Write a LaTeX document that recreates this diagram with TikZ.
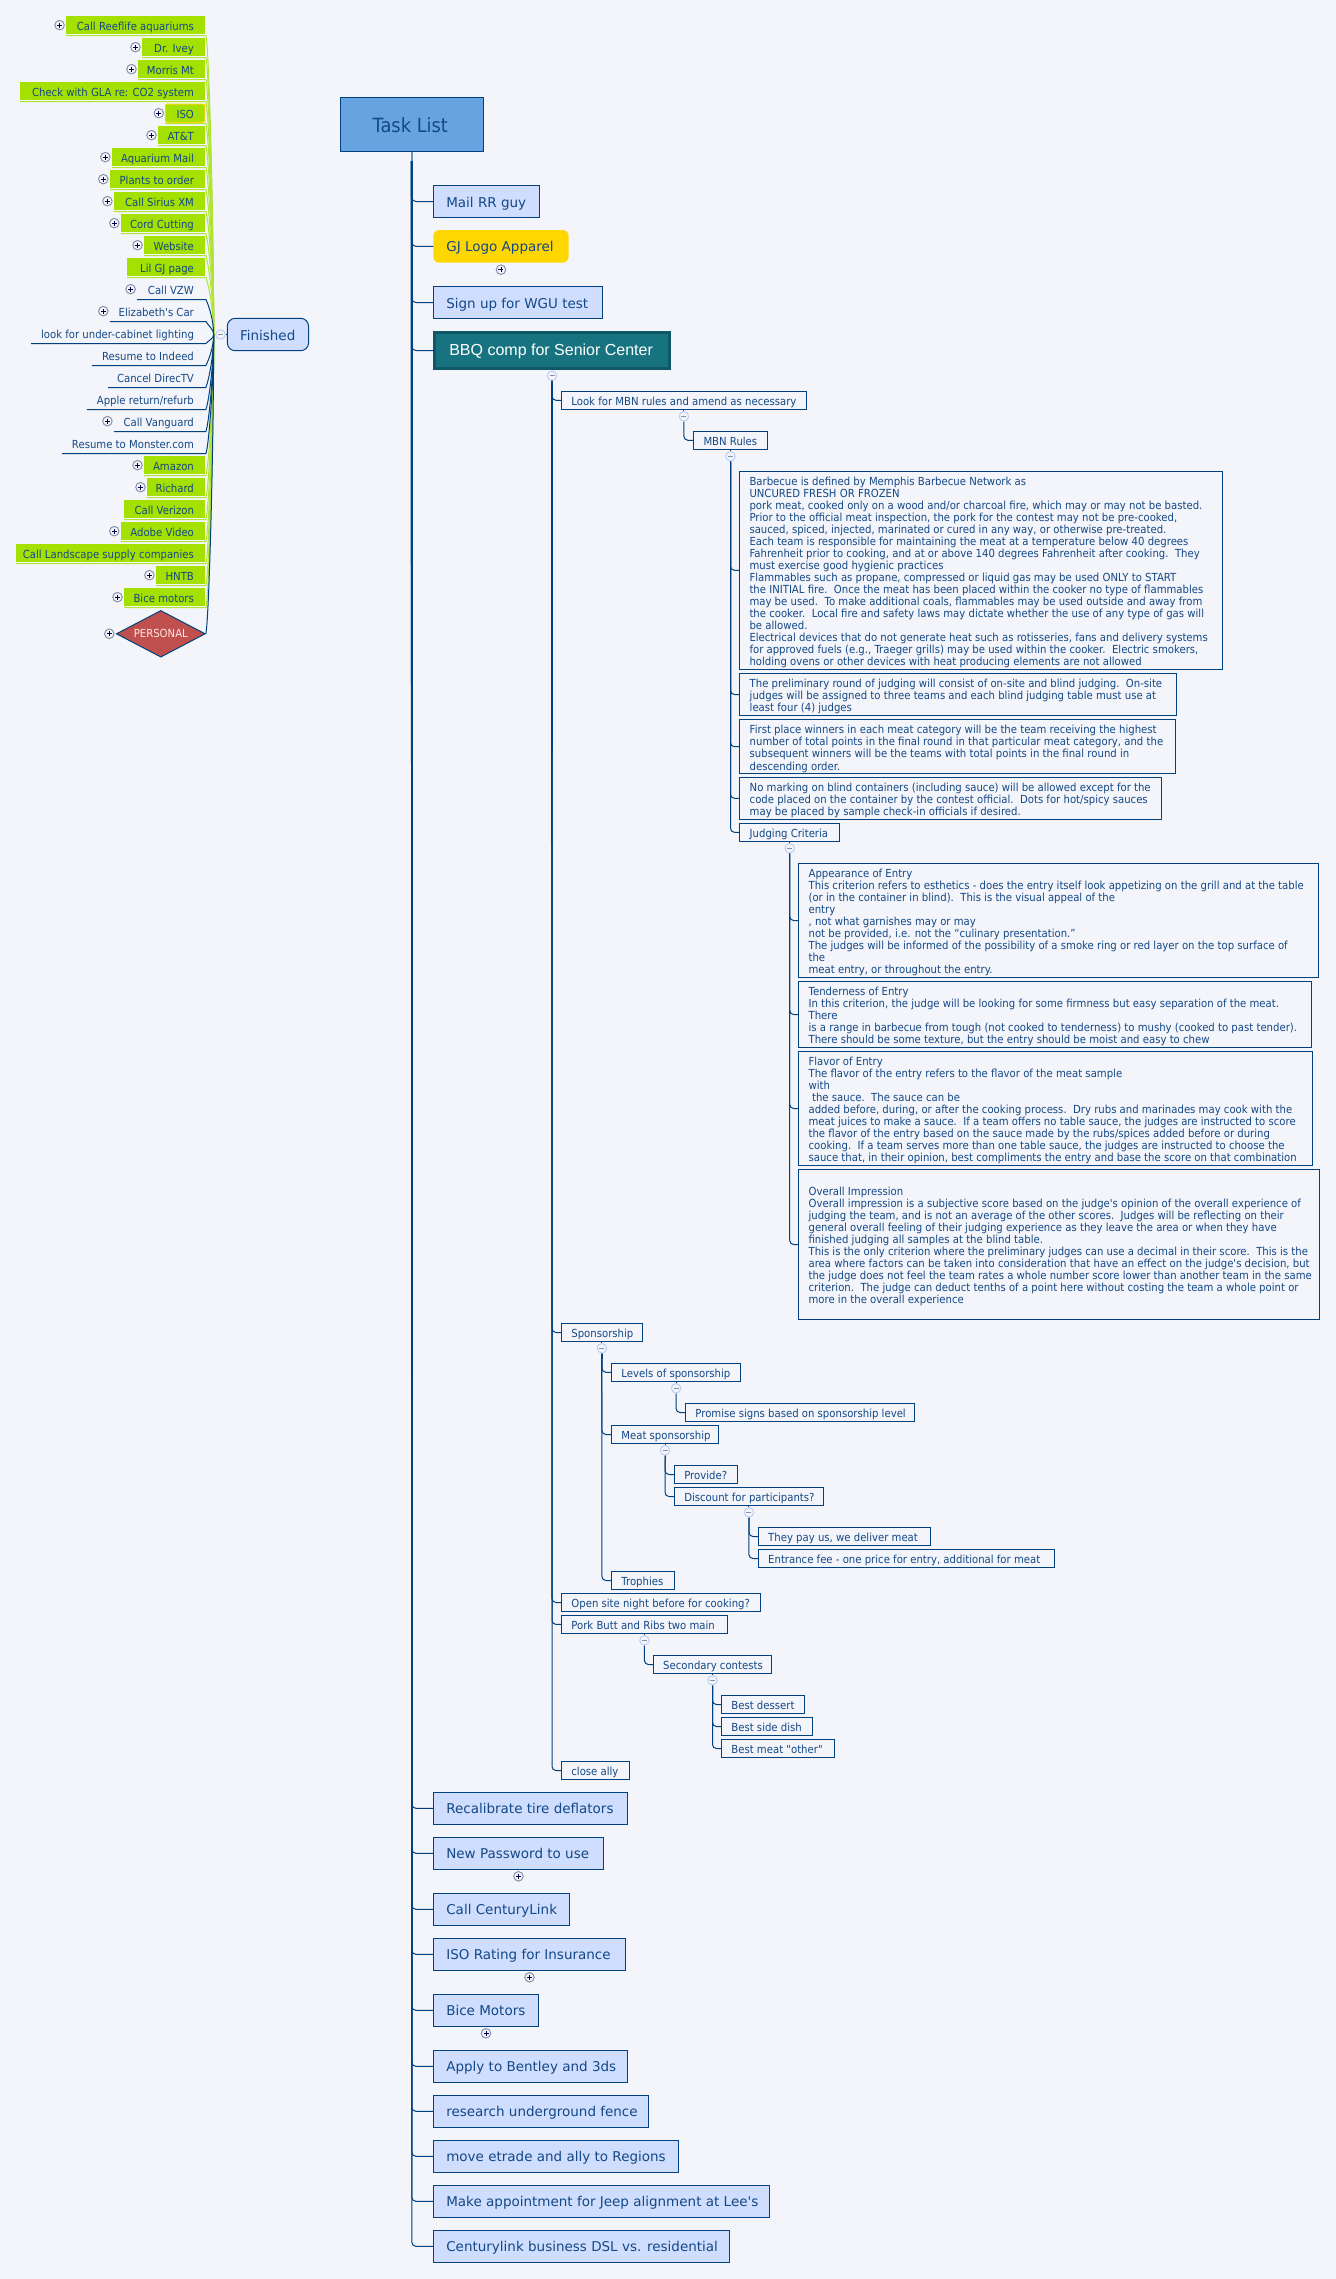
\documentclass[tikz,border=0pt]{standalone}
\usepackage{fontspec}
\usetikzlibrary{calc,shapes.geometric}
\newfontfamily\djf{DejaVu Sans}
\newfontfamily\djn[FakeStretch=0.91]{DejaVu Sans}
\newfontfamily\lbf{Liberation Sans}
\definecolor{bgc}{RGB}{243,245,250}
\definecolor{boxc}{RGB}{207,222,254}
\definecolor{navy}{RGB}{0,66,128}
\definecolor{txt}{RGB}{20,72,134}
\definecolor{rootc}{RGB}{102,163,224}
\definecolor{goldc}{RGB}{255,215,0}
\definecolor{tealc}{RGB}{23,115,127}
\definecolor{tealb}{RGB}{15,88,103}
\definecolor{greenc}{RGB}{164,224,0}
\definecolor{greenl}{RGB}{176,228,50}
\definecolor{redc}{RGB}{192,80,77}
\definecolor{minusc}{RGB}{190,208,245}
\definecolor{plusc}{RGB}{135,145,170}
\tikzset{
 x=1pt,y=-1pt,
 anybox/.style={rectangle,inner sep=0pt,outer sep=0pt,text=txt,line width=1pt},
 bigfont/.style={font={\djf\fontsize{13.5}{16}\selectfont\def\tsh{2.6pt}}},
 smallfont/.style={font={\djn\fontsize{11.11}{12}\selectfont\def\tsh{2.8pt}}},
 rootbox/.style={anybox,draw=navy,fill=rootc,font={\djn\fontsize{19.6}{20}\selectfont\def\tsh{3.5pt}}},
 mainbox/.style={anybox,draw=navy,fill=boxc,bigfont},
 goldbox/.style={anybox,fill=goldc,rounded corners=6pt,bigfont},
 finbox/.style={anybox,draw=navy,fill=boxc,rounded corners=8pt,bigfont},
 bbqbox/.style={anybox,draw=tealb,fill=tealc,line width=2.6pt,text=white,font={\lbf\fontsize{16}{18}\selectfont\def\tsh{1.6pt}}},
 subbox/.style={anybox,draw=navy,smallfont},
 greenbox/.style={anybox,fill=greenc,smallfont},
 isobox/.style={anybox,draw=goldc,fill=greenc,rounded corners=2pt,smallfont},
 plainbox/.style={anybox,smallfont},
 conn/.style={draw=navy,line width=1pt},
 plusi/.style={circle,draw=plusc,fill=bgc,line width=1pt,minimum size=9.5pt,inner sep=0pt},
 minusi/.style={circle,draw=minusc,fill=bgc,line width=1pt,minimum size=9.5pt,inner sep=0pt},
 plusbar/.style={draw=black!70!blue,line width=0.8pt},
 minusbar/.style={draw=plusc,line width=0.8pt},
}
\newcommand\tabtxt[1]{\raisebox{\dimexpr-\tsh-0.25em\relax}[0pt][0pt]{\begin{tabular}{@{}l@{}}#1\end{tabular}}}
% style, name, x1, y1, x2, y2, left pad, text
\newcommand\bx[8]{%
 \pgfmathsetlengthmacro\bw{#5-#3}%
 \node[#1,minimum width=\bw,minimum height={(#6-#4)*1pt}] (#2) at ({(#3+#5)/2},{(#4+#6)/2})
  {\makebox[\bw][l]{\hspace{#7pt}\tabtxt{#8}}};}
% left-hand nodes: style, name, x1, top, text (text right aligned)
\newcommand\lnd[5]{%
 \pgfmathsetlengthmacro\bw{204.9-#3}%
 \node[#1,minimum width=\bw,minimum height=18.3pt] (#2) at ({(#3+204.9)/2},{#4+9.15})
  {\makebox[\bw][r]{\tabtxt{#5}\hspace{11pt}}};}
% left-hand connector: name, colour, sign of control
\newcommand\lb[3]{%
 \coordinate (#1-e) at ($(#1.south east)+(1,1.2)$);
 \coordinate (#1-u) at ($(#1.south west)+(0,1.2)$);
 \draw[conn,draw=#2] (hub) .. controls ($(hub)!0.4!(hub |- #1-e)$) and ($(#1-e)+(3,#3)$) .. (#1-e) -- (#1-u);}
% tree connector: hub, child, fan offset
\newcommand\tbr[3]{\draw[conn,rounded corners=4pt] ($(#1)+(#3,0)$) -- (#1 |- #2.west) -- (#2.west);}
\newcommand\plw[1]{\node[plusi] (#1-p) at ($(#1.west)+(-6.5,0)$) {};
 \draw[plusbar] ($(#1-p)+(-2.5,0)$) -- ($(#1-p)+(2.5,0)$);
 \draw[plusbar] ($(#1-p)+(0,-2.5)$) -- ($(#1-p)+(0,2.5)$);}
\newcommand\pls[1]{\node[plusi] (#1-p) at ($(#1.south)+(0,7)$) {};
 \draw[plusbar] ($(#1-p)+(-2.5,0)$) -- ($(#1-p)+(2.5,0)$);
 \draw[plusbar] ($(#1-p)+(0,-2.5)$) -- ($(#1-p)+(0,2.5)$);}
\newcommand\mns[1]{\node[minusi] (#1-m) at ($(#1.south)+(0,7)$) {};
 \draw[minusbar] ($(#1-m)+(-2.5,0)$) -- ($(#1-m)+(2.5,0)$);
 \draw[conn] (#1.south) -- (#1-m.north);}
\begin{document}
\begin{tikzpicture}
\useasboundingbox (0,0) rectangle (1336,2279);
\fill[bgc] (0,0) rectangle (1336,2279);

% ---------- left side
\bx{finbox}{fin}{227.3}{318.3}{308.6}{350.7}{12.7}{Finished}
\node[minusi] (finm) at ($(fin.west)+(-6.8,0)$) {};
\draw[minusbar] ($(finm)+(-2.5,0)$) -- ($(finm)+(2.5,0)$);
\coordinate (hub) at ($(finm.west)+(-1.6,0)$);
\draw[conn] (finm.west) -- (hub);

\lnd{greenbox}{a1}{66.1}{16}{Call Reeflife aquariums}
\lnd{greenbox}{a2}{142}{38}{Dr. Ivey}
\lnd{greenbox}{a3}{138}{60}{Morris Mt}
\lnd{greenbox}{a4}{20}{82}{Check with GLA re: CO2 system}
\lnd{isobox}{a5}{165.3}{104}{ISO}
\lnd{greenbox}{a6}{158}{126}{AT\&T}
\lnd{greenbox}{a7}{111.8}{148}{Aquarium Mail}
\lnd{greenbox}{a8}{109.8}{170}{Plants to order}
\lnd{greenbox}{a9}{113.9}{192}{Call Sirius XM}
\lnd{greenbox}{a10}{120.8}{214}{Cord Cutting}
\lnd{greenbox}{a11}{144}{236}{Website}
\lnd{greenbox}{a12}{127}{258}{Lil GJ page}
\lnd{plainbox}{b1}{137.1}{280}{Call VZW}
\lnd{plainbox}{b2}{109.8}{302}{Elizabeth's Car}
\lnd{plainbox}{b3}{31}{324}{look for under-cabinet lighting}
\lnd{plainbox}{b4}{91.8}{346}{Resume to Indeed}
\lnd{plainbox}{b5}{108.2}{368}{Cancel DirecTV}
\lnd{plainbox}{b6}{86.9}{390}{Apple return/refurb}
\lnd{plainbox}{b7}{113.9}{412}{Call Vanguard}
\lnd{plainbox}{b8}{62}{434}{Resume to Monster.com}
\lnd{greenbox}{c1}{144}{456}{Amazon}
\lnd{greenbox}{c2}{147}{478}{Richard}
\lnd{greenbox}{c3}{124}{500}{Call Verizon}
\lnd{greenbox}{c4}{120.8}{522}{Adobe Video}
\lnd{greenbox}{c5}{15.9}{544}{Call Landscape supply companies}
\lnd{greenbox}{c6}{155.9}{566}{HNTB}
\lnd{greenbox}{c7}{124}{588}{Bice motors}
\node[diamond,aspect=1.9,draw=navy,fill=redc,line width=1pt,inner sep=0pt,minimum width=89pt,minimum height=46.7pt,text=white!90!red,font={\djn\fontsize{11.11}{12}\selectfont}] (pers) at (160.8,633.8) {PERSONAL};

\lb{a1}{greenl}{10}\lb{a2}{greenl}{10}\lb{a3}{greenl}{10}\lb{a4}{greenl}{10}
\lb{a5}{greenl}{10}\lb{a6}{greenl}{10}\lb{a7}{greenl}{10}\lb{a8}{greenl}{10}
\lb{a9}{greenl}{10}\lb{a10}{greenl}{10}\lb{a11}{greenl}{10}\lb{a12}{greenl}{8}
\lb{c7}{greenl}{-10}\lb{c6}{greenl}{-10}\lb{c5}{greenl}{-10}\lb{c4}{greenl}{-10}
\lb{c3}{greenl}{-10}\lb{c2}{greenl}{-10}\lb{c1}{greenl}{-10}
\lb{b1}{navy}{6}\lb{b2}{navy}{5}\lb{b3}{navy}{-3}\lb{b4}{navy}{-6}
\lb{b5}{navy}{-8}\lb{b6}{navy}{-8}\lb{b7}{navy}{-8}\lb{b8}{navy}{-8}
\draw[conn] (hub) .. controls ($(hub)!0.4!(hub |- pers.east)$) and ($(pers.east)+(3,-10)$) .. (pers.east);
\draw[conn] (fin.west) -- (finm.east);

\plw{a1}\plw{a2}\plw{a3}\plw{a5}\plw{a6}\plw{a7}\plw{a8}\plw{a9}\plw{a10}\plw{a11}
\plw{b1}\plw{b2}\plw{b7}\plw{c1}\plw{c2}\plw{c4}\plw{c6}\plw{c7}\plw{pers}

% ---------- root and level 1
\bx{rootbox}{root}{340}{97.3}{483.7}{151.7}{32.6}{Task List}
\coordinate (rh) at ($(root.south)+(0,9.5)$);
\draw[draw=navy!55!bgc,line width=1.5pt] (root.south) -- (rh);

\bx{mainbox}{m1}{433.3}{185.3}{539.6}{217.7}{13}{Mail RR guy}
\bx{goldbox}{m2}{433.3}{230}{568.6}{262.7}{13}{GJ Logo Apparel}
\bx{mainbox}{m3}{433.3}{286.3}{602.4}{318.7}{13}{Sign up for WGU test}
\bx{bbqbox}{m4}{434.3}{332.3}{669.7}{368.7}{15}{BBQ comp for Senior Center}
\bx{mainbox}{m5}{433.3}{1792.3}{627.7}{1824.3}{13}{Recalibrate tire deflators}
\bx{mainbox}{m6}{433.3}{1837.3}{603.7}{1869.3}{13}{New Password to use}
\bx{mainbox}{m7}{433.3}{1893.3}{569.7}{1925.3}{13}{Call CenturyLink}
\bx{mainbox}{m8}{433.3}{1938.3}{625.7}{1970.3}{13}{ISO Rating for Insurance}
\bx{mainbox}{m9}{433.3}{1994.3}{538.7}{2026.3}{13}{Bice Motors}
\bx{mainbox}{m10}{433.3}{2050.3}{627.7}{2082.3}{13}{Apply to Bentley and 3ds}
\bx{mainbox}{m11}{433.3}{2095.3}{648.7}{2127.3}{13}{research underground fence}
\bx{mainbox}{m12}{433.3}{2140.3}{678.7}{2172.3}{13}{move etrade and ally to Regions}
\bx{mainbox}{m13}{433.3}{2185.3}{769.7}{2217.3}{13}{Make appointment for Jeep alignment at Lee's}
\bx{mainbox}{m14}{433.3}{2230.3}{729.7}{2262.3}{13}{Centurylink business DSL vs. residential}
\tbr{rh}{m1}{.6}\tbr{rh}{m2}{-.6}\tbr{rh}{m3}{.6}\tbr{rh}{m4}{-.6}
\tbr{rh}{m5}{.55}\tbr{rh}{m6}{-.55}\tbr{rh}{m7}{.5}\tbr{rh}{m8}{-.5}
\tbr{rh}{m9}{.45}\tbr{rh}{m10}{-.45}\tbr{rh}{m11}{.35}\tbr{rh}{m12}{-.3}
\tbr{rh}{m13}{.25}\tbr{rh}{m14}{0}
\pls{m2}\pls{m6}\pls{m8}\pls{m9}

% ---------- BBQ level 2
\mns{m4}
\bx{subbox}{k1}{561.4}{391.3}{806.5}{409.3}{10}{Look for MBN rules and amend as necessary}
\bx{subbox}{k2}{561.4}{1323.7}{642.5}{1341.3}{10}{Sponsorship}
\bx{subbox}{k3}{561.4}{1593.7}{760.7}{1611.3}{10}{Open site night before for cooking?}
\bx{subbox}{k4}{561.4}{1615.5}{727.5}{1633.3}{10}{Pork Butt and Ribs two main}
\bx{subbox}{k5}{561.4}{1761.7}{629.6}{1779.3}{10}{close ally}
\tbr{m4-m.south}{k1}{.5}\tbr{m4-m.south}{k2}{-.5}\tbr{m4-m.south}{k3}{.35}\tbr{m4-m.south}{k4}{-.3}\tbr{m4-m.south}{k5}{0}

% ---------- MBN
\mns{k1}
\bx{subbox}{r0}{693.5}{431.3}{767.5}{449.3}{10}{MBN Rules}
\tbr{k1-m.south}{r0}{0}
\mns{r0}
\bx{subbox}{r1}{739.5}{471.3}{1222.8}{669.3}{10}{Barbecue is defined by Memphis Barbecue Network as\\
UNCURED FRESH OR FROZEN\\
pork meat, cooked only on a wood and/or charcoal fire, which may or may not be basted.\\
Prior to the official meat inspection, the pork for the contest may not be pre-cooked,\\
sauced, spiced, injected, marinated or cured in any way, or otherwise pre-treated.\\
Each team is responsible for maintaining the meat at a temperature below 40 degrees\\
Fahrenheit prior to cooking, and at or above 140 degrees Fahrenheit after cooking.~~They\\
must exercise good hygienic practices\\
Flammables such as propane, compressed or liquid gas may be used ONLY to START\\
the INITIAL fire.~~Once the meat has been placed within the cooker no type of flammables\\
may be used.~~To make additional coals, flammables may be used outside and away from\\
the cooker.~~Local fire and safety laws may dictate whether the use of any type of gas will\\
be allowed.\\
Electrical devices that do not generate heat such as rotisseries, fans and delivery systems\\
for approved fuels (e.g., Traeger grills) may be used within the cooker.~~Electric smokers,\\
holding ovens or other devices with heat producing elements are not allowed}
\bx{subbox}{r2}{739.7}{673.7}{1176.4}{715.3}{10}{The preliminary round of judging will consist of on-site and blind judging.~~On-site\\
judges will be assigned to three teams and each blind judging table must use at\\
least four (4) judges}
\bx{subbox}{r3}{739.7}{719.7}{1175.4}{773.7}{10}{First place winners in each meat category will be the team receiving the highest\\
number of total points in the final round in that particular meat category, and the\\
subsequent winners will be the teams with total points in the final round in\\
descending order.}
\bx{subbox}{r4}{739.7}{777.3}{1161.6}{819.3}{10}{No marking on blind containers (including sauce) will be allowed except for the\\
code placed on the container by the contest official.~~Dots for hot/spicy sauces\\
may be placed by sample check-in officials if desired.}
\bx{subbox}{r5}{739.7}{823.3}{839.7}{841.3}{10}{Judging Criteria}
\tbr{r0-m.south}{r1}{0}\tbr{r0-m.south}{r2}{0}\tbr{r0-m.south}{r3}{0}\tbr{r0-m.south}{r4}{0}\tbr{r0-m.south}{r5}{0}

\mns{r5}
\bx{subbox}{j1}{798.6}{863.7}{1318.8}{977.3}{10}{Appearance of Entry\\
This criterion refers to esthetics - does the entry itself look appetizing on the grill and at the table\\
(or in the container in blind).~~This is the visual appeal of the\\
entry\\
, not what garnishes may or may\\
not be provided, i.e. not the “culinary presentation.”\\
The judges will be informed of the possibility of a smoke ring or red layer on the top surface of\\
the\\
meat entry, or throughout the entry.}
\bx{subbox}{j2}{798.6}{981.7}{1311.7}{1047.3}{10}{Tenderness of Entry\\
In this criterion, the judge will be looking for some firmness but easy separation of the meat.\\
There\\
is a range in barbecue from tough (not cooked to tenderness) to mushy (cooked to past tender).\\
There should be some texture, but the entry should be moist and easy to chew}
\bx{subbox}{j3}{798.6}{1051.7}{1312.5}{1165.3}{10}{Flavor of Entry\\
The flavor of the entry refers to the flavor of the meat sample\\
with\\
\hspace{3.5pt}the sauce.~~The sauce can be\\
added before, during, or after the cooking process.~~Dry rubs and marinades may cook with the\\
meat juices to make a sauce.~~If a team offers no table sauce, the judges are instructed to score\\
the flavor of the entry based on the sauce made by the rubs/spices added before or during\\
cooking.~~If a team serves more than one table sauce, the judges are instructed to choose the\\
sauce that, in their opinion, best compliments the entry and base the score on that combination}
\bx{subbox}{j4}{798.6}{1169.7}{1319.6}{1319.3}{10}{~\\
Overall Impression\\
Overall impression is a subjective score based on the judge's opinion of the overall experience of\\
judging the team, and is not an average of the other scores.~~Judges will be reflecting on their\\
general overall feeling of their judging experience as they leave the area or when they have\\
finished judging all samples at the blind table.\\
This is the only criterion where the preliminary judges can use a decimal in their score.~~This is the\\
area where factors can be taken into consideration that have an effect on the judge's decision, but\\
the judge does not feel the team rates a whole number score lower than another team in the same\\
criterion.~~The judge can deduct tenths of a point here without costing the team a whole point or\\
more in the overall experience\\
~}
\tbr{r5-m.south}{j1}{0}\tbr{r5-m.south}{j2}{0}\tbr{r5-m.south}{j3}{0}\tbr{r5-m.south}{j4}{0}

% ---------- Sponsorship
\mns{k2}
\bx{subbox}{s1}{611.4}{1363.3}{740.7}{1381.3}{10}{Levels of sponsorship}
\bx{subbox}{s2}{611.4}{1425.7}{718.6}{1443.3}{10}{Meat sponsorship}
\bx{subbox}{s3}{611.4}{1571.7}{674.6}{1589.3}{10}{Trophies}
\tbr{k2-m.south}{s1}{.4}\tbr{k2-m.south}{s2}{-.4}\tbr{k2-m.south}{s3}{0}
\mns{s1}
\bx{subbox}{s4}{685.4}{1403.7}{914.6}{1421.3}{10}{Promise signs based on sponsorship level}
\tbr{s1-m.south}{s4}{0}
\mns{s2}
\bx{subbox}{s5}{674.3}{1465.7}{737.5}{1483.3}{10}{Provide?}
\bx{subbox}{s6}{674.3}{1487.7}{823.6}{1505.3}{10}{Discount for participants?}
\tbr{s2-m.south}{s5}{.3}\tbr{s2-m.south}{s6}{0}
\mns{s6}
\bx{subbox}{s7}{758.2}{1527.7}{930.7}{1545.3}{10}{They pay us, we deliver meat}
\bx{subbox}{s8}{758.2}{1549.7}{1054.6}{1567.3}{10}{Entrance fee - one price for entry, additional for meat}
\tbr{s6-m.south}{s7}{.3}\tbr{s6-m.south}{s8}{0}

% ---------- Pork
\mns{k4}
\bx{subbox}{p1}{653.2}{1655.7}{771.8}{1673.3}{10}{Secondary contests}
\tbr{k4-m.south}{p1}{0}
\mns{p1}
\bx{subbox}{p2}{721.4}{1695.7}{804.6}{1713.3}{10}{Best dessert}
\bx{subbox}{p3}{721.4}{1717.7}{812.5}{1735.3}{10}{Best side dish}
\bx{subbox}{p4}{721.4}{1739.7}{834.6}{1757.3}{10}{Best meat "other"}
\tbr{p1-m.south}{p2}{0}\tbr{p1-m.south}{p3}{0}\tbr{p1-m.south}{p4}{0}
\end{tikzpicture}
\end{document}
